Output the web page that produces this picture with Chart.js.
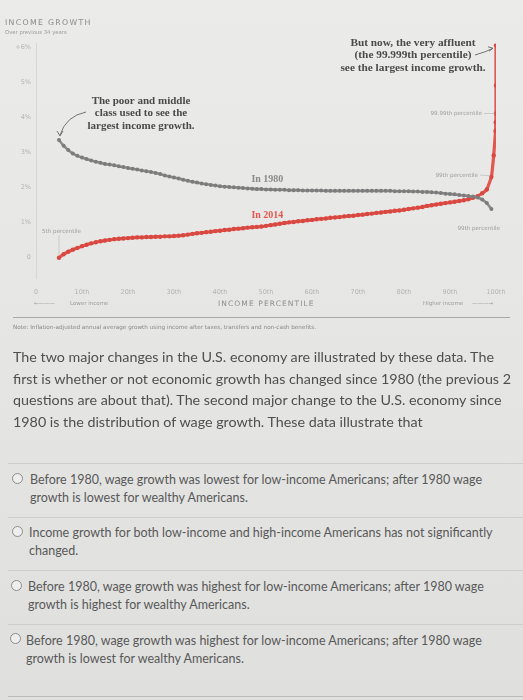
<!DOCTYPE html>
<html>
<head>
<meta charset="utf-8">
<script src="https://cdn.jsdelivr.net/npm/chart.js@4"></script>
<style>
  html,body{margin:0;padding:0;}
  body{width:523px;height:700px;position:relative;overflow:hidden;
       background:linear-gradient(180deg,#ebebe9 0%,#e6e6e4 45%,#dfe0de 100%);
       font-family:Lato,"Open Sans",sans-serif;color:#555;}
  .abs{position:absolute;white-space:nowrap;}
  #chartWrap{position:absolute;left:0;top:0;width:523px;height:312px;}
  .ttl{left:5px;top:18px;font-size:7.8px;letter-spacing:1.3px;color:#8a8a8a;font-family:"DejaVu Sans",sans-serif;}
  .sub{left:5px;top:29px;font-size:5.3px;color:#9a9a9a;font-family:"DejaVu Sans",sans-serif;}
  .leg{font-size:5.5px;color:#9a9a9a;font-family:"DejaVu Sans",sans-serif;top:300px;}
  .xt{left:218px;top:299px;font-size:7.5px;letter-spacing:1.1px;color:#8d8d8d;font-family:"DejaVu Sans",sans-serif;}
  .sep{position:absolute;height:0;border-top:1.5px solid #a9a9a9;}
  .note{left:13px;top:324px;font-size:5.7px;color:#888;font-family:"DejaVu Sans",sans-serif;}
  .q{left:13px;top:346px;font-size:14.3px;line-height:21.5px;color:#4f4f4f;}
  .opt{font-size:12.5px;line-height:17.5px;color:#585858;}
  .radio{position:absolute;width:9px;height:9px;border:1.3px solid #8c8c8c;border-radius:50%;background:#eee;}
  .hl{position:absolute;left:8px;width:515px;height:0;border-top:1px solid #cdcdcd;}
</style>
</head>
<body>
<div id="chartWrap"><canvas id="c" width="523" height="312"></canvas></div>

<div class="abs ttl">INCOME GROWTH</div>
<div class="abs sub">Over previous 34 years</div>

<div class="abs leg" style="left:34px;">&larr;&mdash;&mdash;&mdash;</div>
<div class="abs leg" style="left:70px;">Lower income</div>
<div class="abs xt">INCOME PERCENTILE</div>
<div class="abs leg" style="left:423px;">Higher income</div>
<div class="abs leg" style="left:472px;">&mdash;&mdash;&mdash;&rarr;</div>

<div class="sep" style="left:13px;width:497px;top:317px;"></div>
<div class="abs note">Note: Inflation-adjusted annual average growth using income after taxes, transfers and non-cash benefits.</div>

<div class="abs q">The two major changes in the U.S. economy are illustrated by these data. The<br>first is whether or not economic growth has changed since 1980 (the previous 2<br>questions are about that). The second major change to the U.S. economy since<br>1980 is the distribution of wage growth. These data illustrate that</div>

<div class="hl" style="top:463px;"></div>
<div class="radio" style="left:12px;top:473px;"></div>
<div class="abs opt" style="left:30px;top:471px;">Before 1980, wage growth was lowest for low-income Americans; after 1980 wage<br>growth is lowest for wealthy Americans.</div>

<div class="hl" style="top:517px;"></div>
<div class="radio" style="left:12px;top:526px;"></div>
<div class="abs opt" style="left:29px;top:524px;">Income growth for both low-income and high-income Americans has not significantly<br>changed.</div>

<div class="hl" style="top:570px;"></div>
<div class="radio" style="left:11px;top:580px;"></div>
<div class="abs opt" style="left:28px;top:578px;">Before 1980, wage growth was highest for low-income Americans; after 1980 wage<br>growth is highest for wealthy Americans.</div>

<div class="hl" style="top:624px;"></div>
<div class="radio" style="left:10px;top:633px;"></div>
<div class="abs opt" style="left:26px;top:632px;">Before 1980, wage growth was highest for low-income Americans; after 1980 wage<br>growth is lowest for wealthy Americans.</div>

<div class="hl" style="top:696px;border-top-color:#bbb;"></div>

<script>
// ---- data ----
const percentiles1980 = [5,6,7,8,9,10,11,12,13,14,15,16,17,18,19,20,21,22,23,24,25,26,27,28,29,30,31,32,33,34,35,36,37,38,39,40,41,42,43,44,45,46,47,48,49,50,51,52,53,54,55,56,57,58,59,60,61,62,63,64,65,66,67,68,69,70,71,72,73,74,75,76,77,78,79,80,81,82,83,84,85,86,87,88,89,90,91,92,93,94,95,96,97,98,99];
const growth1980 = [3.34,3.18,3.06,2.96,2.89,2.84,2.80,2.76,2.72,2.69,2.66,2.64,2.62,2.59,2.57,2.54,2.52,2.50,2.47,2.45,2.43,2.40,2.37,2.33,2.30,2.27,2.24,2.21,2.18,2.15,2.13,2.10,2.08,2.06,2.04,2.02,2.01,2.00,1.99,1.98,1.97,1.96,1.95,1.94,1.94,1.93,1.93,1.92,1.92,1.92,1.91,1.91,1.91,1.90,1.90,1.90,1.90,1.90,1.89,1.89,1.89,1.89,1.89,1.89,1.89,1.89,1.89,1.89,1.89,1.89,1.89,1.89,1.89,1.88,1.88,1.88,1.88,1.87,1.87,1.86,1.86,1.85,1.84,1.83,1.81,1.80,1.79,1.77,1.76,1.74,1.73,1.70,1.64,1.54,1.37];
const percentiles2014 = [5,6,7,8,9,10,11,12,13,14,15,16,17,18,19,20,21,22,23,24,25,26,27,28,29,30,31,32,33,34,35,36,37,38,39,40,41,42,43,44,45,46,47,48,49,50,51,52,53,54,55,56,57,58,59,60,61,62,63,64,65,66,67,68,69,70,71,72,73,74,75,76,77,78,79,80,81,82,83,84,85,86,87,88,89,90,91,92,93,94,95,96,97,98,99,99.5,99.9,99.95,99.99,99.995,99.999];
const growth2014 = [-0.02,0.08,0.15,0.21,0.26,0.31,0.35,0.39,0.42,0.45,0.47,0.49,0.51,0.52,0.53,0.54,0.55,0.56,0.56,0.57,0.57,0.58,0.58,0.59,0.59,0.60,0.61,0.62,0.64,0.66,0.68,0.69,0.71,0.72,0.74,0.75,0.77,0.78,0.80,0.81,0.82,0.84,0.85,0.86,0.87,0.89,0.91,0.93,0.95,0.97,0.99,1.00,1.02,1.03,1.05,1.06,1.08,1.09,1.10,1.12,1.13,1.14,1.16,1.17,1.18,1.20,1.21,1.23,1.24,1.26,1.27,1.29,1.30,1.32,1.33,1.35,1.37,1.39,1.41,1.43,1.46,1.48,1.50,1.52,1.54,1.56,1.58,1.60,1.62,1.65,1.69,1.74,1.82,1.93,2.29,2.9,3.6,3.85,4.1,4.9,6.05];
const xTickValues = [0,10,20,30,40,50,60,70,80,90,100];
const xTickLabels = ['0','10th','20th','30th','40th','50th','60th','70th','80th','90th','100th'];
const yTickValues = [0,1,2,3,4,5,6];
const yTickLabels = ['0','1%','2%','3%','4%','5%','+6%'];
const seriesNames = ['In 1980','In 2014'];

const RED = '#e2574f', GRAY = '#8c8c8c';

const pts = (xs, ys) => xs.map((x,i)=>({x:x,y:ys[i]}));

const annotations = {
  id:'annotations',
  afterDatasetsDraw(chart){
    const {ctx, scales:{x,y}} = chart;
    const X = v=>x.getPixelForValue(v), Y = v=>y.getPixelForValue(v);
    ctx.save();
    ctx.textAlign='center'; ctx.textBaseline='middle';
    ctx.fillStyle='#4a4a4a';
    ctx.font='bold 11px "Liberation Serif", "DejaVu Serif", serif';
    ['The poor and middle','class used to see the','largest income growth.'].forEach((t,i)=>ctx.fillText(t,141,101+i*12.5));
    ctx.font='bold 11.3px "Liberation Serif", "DejaVu Serif", serif';
    ['But now, the very affluent','(the 99.999th percentile)','see the largest income growth.'].forEach((t,i)=>ctx.fillText(t,413,43+i*12.5));
    // arrows
    ctx.strokeStyle='#666'; ctx.lineWidth=0.9;
    ctx.beginPath(); ctx.moveTo(86,112); ctx.quadraticCurveTo(66,116,60,135); ctx.stroke();
    ctx.beginPath(); ctx.moveTo(57,131); ctx.lineTo(60,136); ctx.lineTo(63,131); ctx.stroke();
    const tx = X(99.999), ty = Y(6.05);
    ctx.beginPath(); ctx.moveTo(475,55); ctx.quadraticCurveTo(486,52,tx-3,ty+3); ctx.stroke();
    ctx.beginPath(); ctx.moveTo(tx-8,ty+1.5); ctx.lineTo(tx-3,ty+3); ctx.lineTo(tx-7,ty+6); ctx.stroke();
    // series labels
    ctx.font='bold 10px "Liberation Serif", "DejaVu Serif", serif';
    ctx.fillStyle='#8a8a8a'; ctx.fillText(seriesNames[0], X(50.3), Y(2.22));
    ctx.fillStyle=RED; ctx.fillText(seriesNames[1], X(50.3), Y(1.18));
    // small percentile labels
    ctx.font='5.6px "DejaVu Sans", sans-serif'; ctx.fillStyle='#9c9c9c';
    ctx.textAlign='left';
    ctx.fillText('5th percentile', 42, Y(0.72));
    ctx.strokeStyle='#b5b5b5'; ctx.lineWidth=0.6;
    ctx.beginPath(); ctx.moveTo(X(5),Y(0.62)); ctx.lineTo(X(5),Y(0.05)); ctx.stroke();
    ctx.textAlign='right';
    ctx.fillText('99.99th percentile', 482, Y(4.1));
    ctx.beginPath(); ctx.moveTo(484,Y(4.1)); ctx.lineTo(X(99.99)-1,Y(4.1)); ctx.stroke();
    ctx.fillText('99th percentile', 478, Y(2.34));
    ctx.beginPath(); ctx.moveTo(480,Y(2.34)); ctx.lineTo(X(99)-1,Y(2.32)); ctx.stroke();
    ctx.fillText('99th percentile', 500, Y(0.8));
    ctx.restore();
  }
};

new Chart(document.getElementById('c'), {
  type:'line',
  data:{datasets:[
    {label:seriesNames[0], data:pts(percentiles1980,growth1980), borderColor:GRAY, backgroundColor:GRAY,
     borderWidth:2.6, pointRadius:2, pointBorderWidth:0, pointBackgroundColor:'#7c7c7c', tension:0.2},
    {label:seriesNames[1], data:pts(percentiles2014,growth2014), borderColor:RED, backgroundColor:RED,
     borderWidth:3.2, pointRadius:2.2, pointBorderWidth:0, pointBackgroundColor:'#d84840', tension:0.1}
  ]},
  options:{
    responsive:false, animation:false, events:[],
    layout:{padding:{top:43.5,right:27,left:0,bottom:0}},
    plugins:{legend:{display:false}, tooltip:{enabled:false}},
    scales:{
      x:{type:'linear', min:0, max:100,
         afterBuildTicks:s=>{s.ticks = xTickValues.map(v=>({value:v}));},
         afterFit:s=>{s.height=34;},
         grid:{display:false, drawTicks:false}, border:{display:false},
         ticks:{padding:10, maxRotation:0, autoSkip:false, color:'#b3b3b3',
                font:{size:6.5, family:'"DejaVu Sans", sans-serif'},
                callback:(v)=>xTickLabels[xTickValues.indexOf(v)]}},
      y:{type:'linear', min:-0.6, max:6.1,
         afterBuildTicks:s=>{s.ticks = yTickValues.map(v=>({value:v}));},
         afterFit:s=>{s.width=36;},
         grid:{display:false, drawTicks:false}, border:{display:true, color:'#d6d6d4', width:1},
         ticks:{padding:5, color:'#b3b3b3', font:{size:6.5, family:'"DejaVu Sans", sans-serif'},
                callback:(v)=>yTickLabels[yTickValues.indexOf(v)]}}
    }
  },
  plugins:[annotations]
});
</script>
</body>
</html>
